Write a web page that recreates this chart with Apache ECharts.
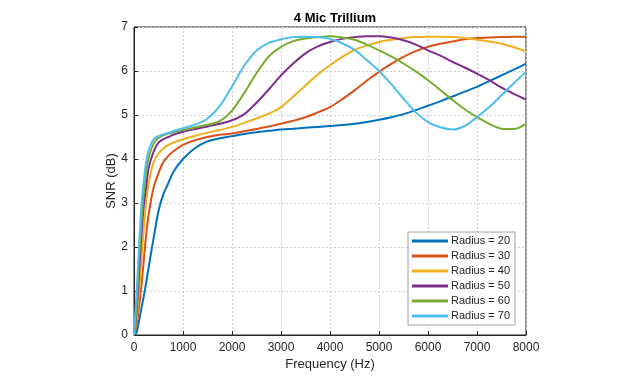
<!DOCTYPE html>
<html>
<head>
<meta charset="utf-8">
<script src="https://cdn.jsdelivr.net/npm/echarts@6/dist/echarts.min.js"></script>
<style>html,body{margin:0;padding:0;background:#fff;}#c{width:640px;height:376px;}</style>
</head>
<body>
<div id="c"></div>
<script>
var freq = [0,50,100,150,200,250,300,400,500,600,700,800,1000,1250,1500,1750,2000,2250,2500,2750,3000,3250,3500,3750,4000,4250,4500,4750,5000,5250,5500,5750,6000,6250,6500,6750,7000,7250,7500,7750,8000];
var r20 = [0,0.05,0.3,0.6,0.88,1.2,1.55,2.2,2.82,3.2,3.45,3.7,4.0,4.25,4.4,4.47,4.52,4.57,4.61,4.64,4.67,4.69,4.71,4.73,4.75,4.77,4.8,4.84,4.89,4.95,5.02,5.11,5.21,5.31,5.42,5.53,5.64,5.77,5.9,6.03,6.17];
var r30 = [0,0.2,0.62,1.1,1.7,2.3,2.75,3.35,3.68,3.93,4.07,4.17,4.32,4.43,4.5,4.55,4.58,4.63,4.68,4.74,4.8,4.87,4.95,5.06,5.18,5.36,5.56,5.78,5.98,6.16,6.32,6.45,6.55,6.62,6.67,6.72,6.75,6.76,6.77,6.78,6.78];
var r40 = [0,0.35,0.98,1.7,2.4,3.05,3.45,3.93,4.12,4.24,4.32,4.37,4.45,4.53,4.6,4.66,4.73,4.82,4.92,5.03,5.18,5.42,5.67,5.92,6.13,6.32,6.48,6.58,6.66,6.71,6.75,6.77,6.78,6.78,6.77,6.75,6.71,6.67,6.62,6.54,6.45];
var r50 = [0,0.5,1.35,2.25,2.95,3.38,3.8,4.17,4.37,4.45,4.5,4.55,4.62,4.68,4.74,4.8,4.88,5.02,5.28,5.58,5.9,6.17,6.4,6.56,6.66,6.73,6.77,6.79,6.79,6.76,6.7,6.6,6.47,6.35,6.21,6.08,5.94,5.79,5.62,5.48,5.35];
var r60 = [0,0.65,1.7,2.55,3.25,3.7,4.03,4.35,4.48,4.54,4.58,4.61,4.66,4.72,4.78,4.86,5.1,5.5,5.95,6.33,6.55,6.68,6.74,6.77,6.79,6.76,6.71,6.6,6.47,6.33,6.17,5.99,5.79,5.57,5.34,5.13,4.95,4.8,4.69,4.68,4.8];
var r70 = [0,0.9,1.95,2.9,3.5,3.95,4.2,4.45,4.52,4.56,4.59,4.63,4.7,4.78,4.92,5.2,5.65,6.12,6.46,6.64,6.72,6.77,6.78,6.77,6.73,6.63,6.48,6.25,6.0,5.7,5.37,5.06,4.84,4.72,4.67,4.75,4.95,5.18,5.45,5.72,5.98];
var seriesNames = ['Radius = 20','Radius = 30','Radius = 40','Radius = 50','Radius = 60','Radius = 70'];
var seriesValues = [r20,r30,r40,r50,r60,r70];
var colors = ['#0072BD','#D95319','#EDB120','#7E2F8E','#77AC30','#4DBEEE'];
var xTicks = [0,1000,2000,3000,4000,5000,6000,7000,8000];
var yTicks = [0,1,2,3,4,5,6,7];

var font = 'Liberation Sans, Arial, sans-serif';
var chart = echarts.init(document.getElementById('c'), null, {renderer:'canvas'});
var series = seriesValues.map(function(vals, i){
  return {
    name: seriesNames[i], type: 'line', showSymbol: false, smooth: 0.3,
    lineStyle: {width: 2, color: colors[i]}, itemStyle: {color: colors[i]},
    data: freq.map(function(f, j){ return [f, vals[j]]; })
  };
});
chart.setOption({
  animation: false,
  backgroundColor: '#fff',
  color: colors,
  title: {text: '4 Mic Trillium', left: 330, top: 7, textAlign: 'center',
    textStyle: {fontFamily: font, fontSize: 13, fontWeight: 'bold', color: '#000'}},
  grid: {left: 134, right: 114, top: 27, bottom: 41, show: true, borderColor: '#262626', borderWidth: 1, containLabel: false},
  legend: {orient: 'vertical', left: 408, top: 232, data: seriesNames, icon: 'rect', itemWidth: 36, itemHeight: 3,
    itemGap: 3, padding: [3, 5, 3, 4], backgroundColor: '#fff', borderColor: '#a0a0a0', borderWidth: 1, borderRadius: 0,
    textStyle: {fontFamily: font, fontSize: 11, color: '#262626', lineHeight: 12, padding: [0,0,0,-2]}},
  xAxis: {type: 'value', min: 0, max: 8000, interval: 1000,
    name: 'Frequency (Hz)', nameLocation: 'middle', nameGap: 23, nameMoveOverlap: false,
    nameTextStyle: {fontFamily: font, fontSize: 13, color: '#262626'},
    axisLine: {show: true, lineStyle: {color: '#262626'}},
    axisTick: {show: true, inside: true, length: 4, lineStyle: {color: '#262626'}},
    axisLabel: {fontFamily: font, fontSize: 12, color: '#262626', margin: 7,
      formatter: function(v){ return xTicks.indexOf(v) >= 0 ? String(v) : ''; }},
    splitLine: {show: true, lineStyle: {color: '#cfcfcf', type: [2, 2], width: 1}}},
  yAxis: {type: 'value', min: 0, max: 7, interval: 1,
    name: 'SNR (dB)', nameLocation: 'middle', nameGap: 16, nameMoveOverlap: false,
    nameTextStyle: {fontFamily: font, fontSize: 13, color: '#262626'},
    axisLine: {show: true, lineStyle: {color: '#262626'}},
    axisTick: {show: true, inside: true, length: 4, lineStyle: {color: '#262626'}},
    axisLabel: {fontFamily: font, fontSize: 12, color: '#262626', margin: 6,
      formatter: function(v){ return yTicks.indexOf(v) >= 0 ? String(v) : ''; }},
    splitLine: {show: true, lineStyle: {color: '#cfcfcf', type: [2, 2], width: 1}}},
  series: series
});
</script>
</body>
</html>
